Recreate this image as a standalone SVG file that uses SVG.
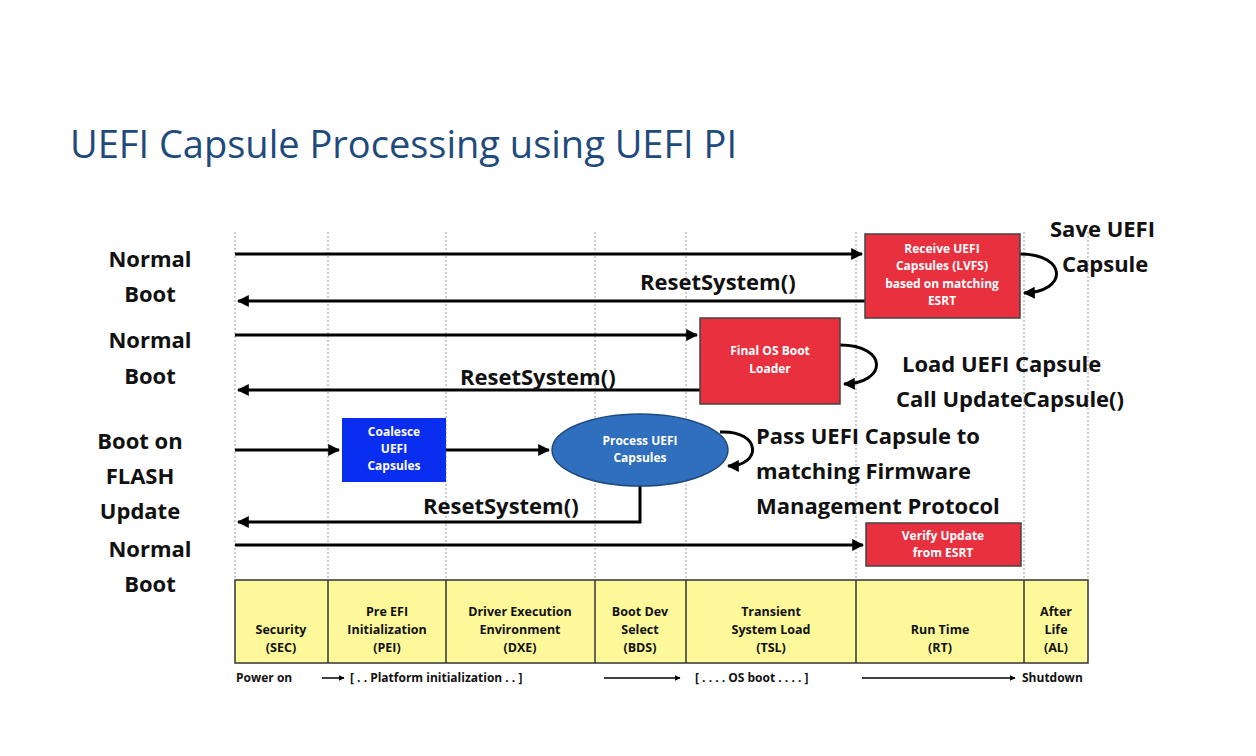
<svg xmlns="http://www.w3.org/2000/svg" width="1256" height="756" viewBox="0 0 1256 756">
<defs>
<marker id="ah" viewBox="0 0 10 10" refX="9" refY="5" markerWidth="4" markerHeight="4" orient="auto"><path d="M0,0L10,5L0,10z" fill="#000"/></marker>
<style>
.g{stroke:#999;stroke-width:1;stroke-dasharray:2,2}
.c{stroke:#000;stroke-width:3;fill:none}
.lab{font-family:"Open Sans",sans-serif;font-weight:bold;font-size:22px;fill:#111}
.bt{font-family:"Open Sans",sans-serif;font-weight:bold;font-size:12px;fill:#fff;text-anchor:middle}
.yt{font-family:"Open Sans",sans-serif;font-weight:bold;font-size:12.5px;fill:#111;text-anchor:middle}
.red{fill:#e8303f;stroke:#444;stroke-width:1.5}
</style>
</defs>
<rect width="1256" height="756" fill="#fff"/>
<text x="70" y="158" font-family="Open Sans,sans-serif" font-size="38" fill="#1f4a7c">UEFI Capsule Processing using UEFI PI</text>
<g id="grid">
<line class="g" x1="235" y1="232" x2="235" y2="580"/><line class="g" x1="328" y1="232" x2="328" y2="580"/><line class="g" x1="446" y1="232" x2="446" y2="580"/><line class="g" x1="595" y1="232" x2="595" y2="580"/><line class="g" x1="686" y1="232" x2="686" y2="580"/><line class="g" x1="856" y1="232" x2="856" y2="580"/><line class="g" x1="1024" y1="232" x2="1024" y2="580"/><line class="g" x1="1088" y1="232" x2="1088" y2="580"/>
</g>
<g id="labels" class="lab" text-anchor="middle">
<text x="150" y="267">Normal</text><text x="150" y="302">Boot</text>
<text x="150" y="348">Normal</text><text x="150" y="384">Boot</text>
<text x="140" y="449">Boot on</text><text x="140" y="484">FLASH</text><text x="140" y="519">Update</text>
<text x="150" y="557">Normal</text><text x="150" y="592">Boot</text>
</g>
<g id="connectors">
<line class="c" x1="235" y1="254" x2="862" y2="254" marker-end="url(#ah)"/>
<line class="c" x1="865" y1="301" x2="238" y2="301" marker-end="url(#ah)"/>
<line class="c" x1="235" y1="335" x2="697" y2="335" marker-end="url(#ah)"/>
<line class="c" x1="700" y1="390" x2="238" y2="390" marker-end="url(#ah)"/>
<line class="c" x1="235" y1="450" x2="339" y2="450" marker-end="url(#ah)"/>
<line class="c" x1="446" y1="450" x2="549" y2="450" marker-end="url(#ah)"/>
<path class="c" d="M640,486 V522 H238" marker-end="url(#ah)"/>
<line class="c" x1="235" y1="545" x2="863" y2="545" marker-end="url(#ah)"/>
<path class="c" d="M1020,254 C1068,254 1068,292 1024,293" marker-end="url(#ah)"/>
<path class="c" d="M840,345 C888,345 888,383 844,384" marker-end="url(#ah)"/>
<path class="c" d="M720,432 C762,430 762,466 728,466" marker-end="url(#ah)"/>
</g>
<g class="lab">
<text x="640" y="290">ResetSystem()</text>
<text x="460" y="385">ResetSystem()</text>
<text x="423" y="514">ResetSystem()</text>
<text x="1050" y="237">Save UEFI</text><text x="1062" y="272">Capsule</text>
<text x="902" y="372">Load UEFI Capsule</text><text x="896" y="407">Call UpdateCapsule()</text>
<text x="756" y="444">Pass UEFI Capsule to</text><text x="756" y="479">matching Firmware</text><text x="756" y="514">Management Protocol</text>
</g>
<g id="receive"><rect class="red" x="865" y="234" width="155" height="84"/><text class="bt" x="942" y="253">Receive UEFI</text><text class="bt" x="942" y="270">Capsules (LVFS)</text><text class="bt" x="942" y="288">based on matching</text><text class="bt" x="942" y="305">ESRT</text></g>
<g id="loader"><rect class="red" x="700" y="318" width="140" height="86"/><text class="bt" x="770" y="355">Final OS Boot</text><text class="bt" x="770" y="373">Loader</text></g>
<g id="coalesce"><rect x="342" y="418" width="104" height="64" fill="#0a2ef0"/><text class="bt" x="394" y="436">Coalesce</text><text class="bt" x="394" y="453">UEFI</text><text class="bt" x="394" y="470">Capsules</text></g>
<g id="process"><ellipse cx="640" cy="450" rx="88" ry="36" fill="#2f6fbd" stroke="#1f4a7c" stroke-width="1.5"/><text class="bt" x="640" y="445">Process UEFI</text><text class="bt" x="640" y="462">Capsules</text></g>
<g id="verify"><rect class="red" x="866" y="523" width="155" height="43"/><text class="bt" x="943" y="540">Verify Update</text><text class="bt" x="943" y="557">from ESRT</text></g>
<g id="phases">
<rect x="235" y="580" width="853" height="83" fill="#fdf99a" stroke="#333" stroke-width="1.5"/>
<g stroke="#333" stroke-width="1.5"><line x1="328" y1="580" x2="328" y2="663"/><line x1="446" y1="580" x2="446" y2="663"/><line x1="595" y1="580" x2="595" y2="663"/><line x1="686" y1="580" x2="686" y2="663"/><line x1="856" y1="580" x2="856" y2="663"/><line x1="1024" y1="580" x2="1024" y2="663"/></g>
<text class="yt" x="281" y="634">Security</text><text class="yt" x="281" y="652">(SEC)</text>
<text class="yt" x="387" y="616">Pre EFI</text><text class="yt" x="387" y="634">Initialization</text><text class="yt" x="387" y="652">(PEI)</text>
<text class="yt" x="520" y="616">Driver Execution</text><text class="yt" x="520" y="634">Environment</text><text class="yt" x="520" y="652">(DXE)</text>
<text class="yt" x="640" y="616">Boot Dev</text><text class="yt" x="640" y="634">Select</text><text class="yt" x="640" y="652">(BDS)</text>
<text class="yt" x="771" y="616">Transient</text><text class="yt" x="771" y="634">System Load</text><text class="yt" x="771" y="652">(TSL)</text>
<text class="yt" x="940" y="634">Run Time</text><text class="yt" x="940" y="652">(RT)</text>
<text class="yt" x="1056" y="616">After</text><text class="yt" x="1056" y="634">Life</text><text class="yt" x="1056" y="652">(AL)</text>
</g>
<g id="footer" font-family="Open Sans,sans-serif" font-weight="bold" font-size="12" fill="#111">
<text x="236" y="682">Power on</text>
<text x="350" y="682">[ . . Platform initialization . . ]</text>
<text x="695" y="682">[ . . . . OS boot . . . . ]</text>
<text x="1022" y="682">Shutdown</text>
<g stroke="#000" stroke-width="1.5"><line x1="322" y1="678" x2="344" y2="678" marker-end="url(#ah)"/><line x1="604" y1="678" x2="680" y2="678" marker-end="url(#ah)"/><line x1="862" y1="678" x2="1015" y2="678" marker-end="url(#ah)"/></g>
</g>
</svg>
